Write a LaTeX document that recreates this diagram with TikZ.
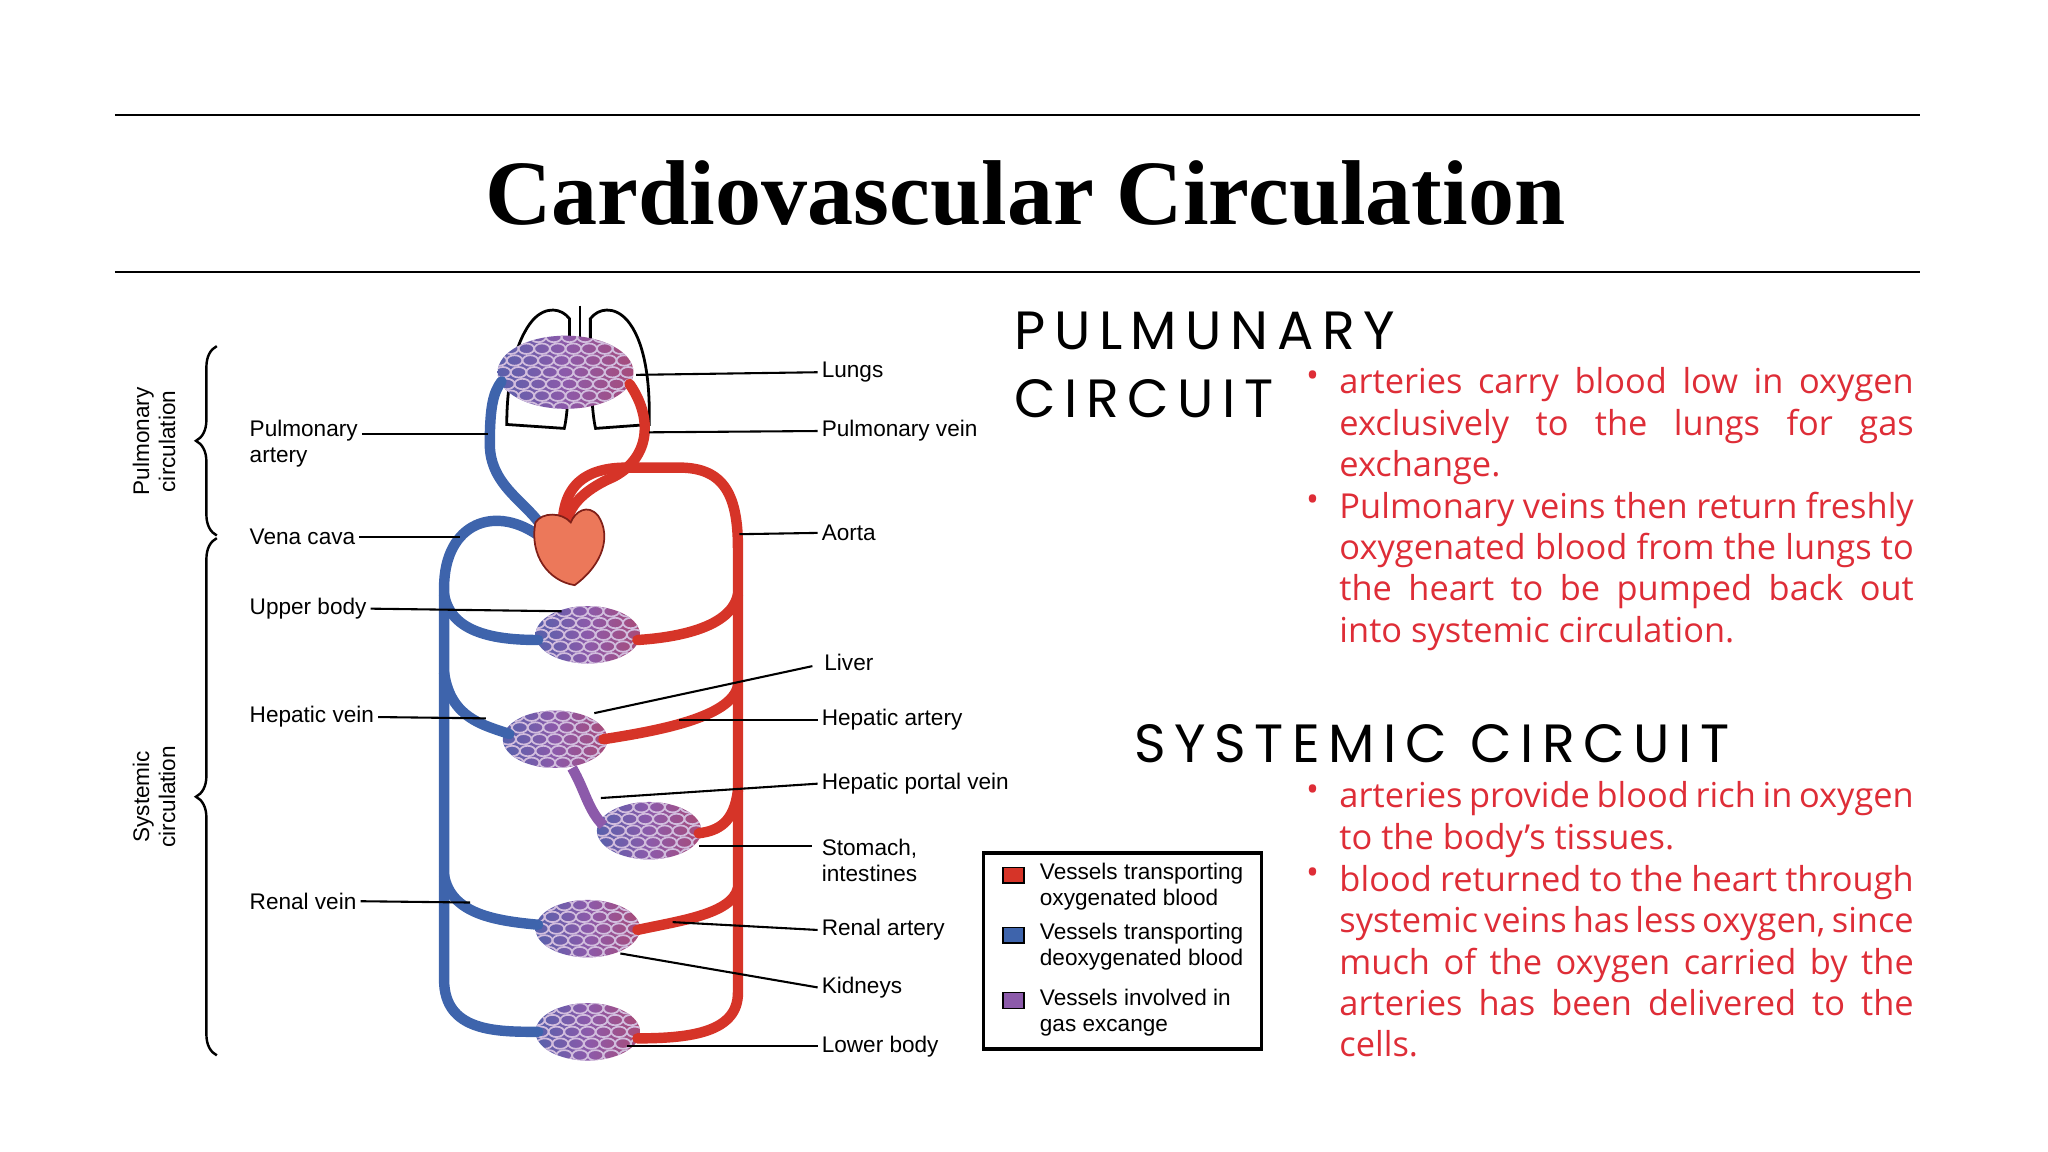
\documentclass[tikz,border=0pt]{standalone}
\usepackage{fontspec}
\setmainfont{Liberation Serif}
\newfontfamily\labfont{Liberation Sans}
\newfontfamily\bodyfont{Open Sans}
\newfontfamily\headfont[LetterSpace=16]{Poppins}
\usetikzlibrary{decorations.pathreplacing}
\hyphenpenalty=10000
\exhyphenpenalty=10000
\definecolor{txtred}{RGB}{222,45,55}
\definecolor{vblue}{RGB}{62,100,172}
\definecolor{vred}{RGB}{214,52,40}
\definecolor{vpurp}{RGB}{140,90,170}
\tikzset{
 lab/.style={font=\labfont\fontsize{6.5}{7.5}\selectfont, inner sep=1pt, align=left},
 lead/.style={line width=0.6pt},
 bvein/.style={draw=vblue, line width=3pt, line cap=round},
 rart/.style={draw=vred, line width=3pt, line cap=round},
 para/.style={font=\bodyfont\fontsize{9.9}{11.9}\selectfont, text=txtred, text width=5.81cm, align=justify, inner sep=0pt, anchor=north west},
 bul/.style={font=\bodyfont\fontsize{9.9}{11.9}\selectfont, text=txtred, inner sep=0pt, anchor=north},
 head/.style={font=\headfont\fontsize{15.5}{18}\selectfont, inner sep=0pt, anchor=west},
}
\newcommand{\capbed}[3]{% name, x, y
 \begin{scope}
  \clip (#2,#3) ellipse (40 and 22);
  \shade[left color=vblue!70!vpurp, right color=vred!40!vpurp, middle color=vpurp] (#2-42,#3-24) rectangle (#2+42,#3+24);
  \foreach \i in {-3,...,3}{\foreach \j in {-2,...,2}{
    \draw[white!60!vpurp, line width=0.5pt] (#2+\i*12+\j*3,#3+\j*9) ellipse (6 and 4);}}
 \end{scope}
 \coordinate (#1) at (#2,#3);
}
\begin{document}
\begin{tikzpicture}[x=0.01321cm,y=-0.01321cm]
\useasboundingbox (0,0) rectangle (1568,882);
% rules and title
\draw[line width=0.6pt] (88,88) coordinate (r1a) -- (1470,88) coordinate (r1b);
\draw[line width=0.6pt] (88,208) coordinate (r2a) -- (1470,208) coordinate (r2b);
\node[font=\bfseries\fontsize{26.5}{30}\selectfont] (title) at (785,148) {Cardiovascular Circulation};
% headings
\node[head] (hp1) at (776,253) {PULMUNARY};
\node[head] (hp2) at (776,305) {CIRCUIT};
\node[head] (hs) at (868,569) {SYSTEMIC CIRCUIT};
% paragraphs
\node[bul] (b1) at (1005,283) {•};
\node[para] (p1) at (1025,281) {arteries carry blood low in oxygen exclusively to the lungs for gas exchange.};
\node[bul] (b2) at (1005,378) {•};
\node[para] (p2) at (1025,376) {Pulmonary veins then return freshly oxygenated blood from the lungs to the heart to be pumped back out into systemic circulation.};
\node[bul] (b3) at (1005,600) {•};
\node[para] (p3) at (1025,598) {arteries provide blood rich in oxygen to the body’s tissues.};
\node[bul] (b4) at (1005,664) {•};
\node[para] (p4) at (1025,662) {blood returned to the heart through systemic veins has less oxygen, since much of the oxygen carried by the arteries has been delivered to the cells.};
% braces
\draw[line width=0.7pt, decorate, decoration={brace, amplitude=6pt}] (166,410) coordinate (pb1) -- (166,265) coordinate (pb2);
\draw[line width=0.7pt, decorate, decoration={brace, amplitude=6pt}] (166,808) coordinate (sb1) -- (166,412) coordinate (sb2);
\node[lab, rotate=90, align=center] (pc) at (118,338) {Pulmonary\\circulation};
\node[lab, rotate=90, align=center] (sc) at (118,610) {Systemic\\circulation};
% lungs outline
\draw[line width=0.8pt, fill=white] (436,262) -- (436,244) .. controls (430,236) and (418,234) .. (408,245) .. controls (395,260) and (388,290) .. (388,325) -- (432,328) .. controls (434,320) and (436,300) .. (436,262);
\draw[line width=0.8pt, fill=white] (452,262) -- (452,244) .. controls (458,236) and (470,234) .. (480,245) .. controls (493,260) and (498,290) .. (497,325) -- (456,328) .. controls (454,320) and (452,300) .. (452,262);
\draw[line width=0.8pt] (444,234) -- (444,262);
% lung capillaries
\begin{scope}
 \clip (433,285) ellipse (52 and 28);
 \shade[left color=vblue!70!vpurp, right color=vred!40!vpurp, middle color=vpurp] (375,250) rectangle (490,320);
 \foreach \i in {-4,...,4}{\foreach \j in {-3,...,3}{
   \draw[white!60!vpurp, line width=0.5pt] (433+\i*12+\j*3,285+\j*9) ellipse (6 and 4);}}
\end{scope}
\coordinate (lungs) at (433,285);
% capillary beds
\capbed{upper}{450}{486}
\capbed{liver}{425}{566}
\capbed{stomach}{497}{636}
\capbed{kidney}{450}{711}
\capbed{lower}{450}{790}
% systemic veins (blue)
\draw[bvein] (415,412) .. controls (380,385) and (340,400) .. (340,450) -- (340,750) .. controls (340,790) and (380,790) .. (412,790);
\draw[bvein] (340,455) .. controls (345,485) and (380,490) .. (412,490);
\draw[bvein] (340,515) .. controls (345,550) and (370,555) .. (390,562);
\draw[bvein] (340,670) .. controls (345,700) and (380,705) .. (412,708);
% pulmonary artery
\draw[bvein] (420,420) .. controls (420,390) and (375,380) .. (375,340) .. controls (375,310) and (378,300) .. (384,292);
% aorta / arteries (red)
\draw[rart] (432,418) .. controls (425,370) and (450,358) .. (480,358) -- (520,358) .. controls (555,358) and (565,380) .. (565,420) -- (565,760) .. controls (565,790) and (530,795) .. (488,795);
\draw[rart] (565,455) .. controls (560,480) and (520,488) .. (488,490);
\draw[rart] (565,525) .. controls (560,550) and (500,560) .. (462,566);
\draw[rart] (565,605) .. controls (562,630) and (550,636) .. (535,638);
\draw[rart] (565,680) .. controls (560,700) and (520,705) .. (488,712);
% pulmonary vein
\draw[rart] (482,294) .. controls (500,320) and (498,350) .. (470,365) .. controls (440,378) and (430,395) .. (435,412);
% hepatic portal vein
\draw[draw=vpurp, line width=3pt] (462,632) .. controls (450,620) and (448,605) .. (438,588);
% heart
\draw[draw=vred!60!black, line width=0.5pt, fill={rgb,255:red,236;green,120;blue,90}] (410,400) .. controls (405,425) and (420,445) .. (440,448) .. controls (462,432) and (468,410) .. (458,395) .. controls (450,385) and (440,392) .. (437,400) .. controls (430,392) and (415,392) .. (410,400) -- cycle;
\coordinate (heart) at (437,420);
% leader lines and labels left
\node[lab, anchor=west] (lpa) at (188,340) {Pulmonary\\artery};
\draw[lead] (277,332) -- (374,332);
\node[lab, anchor=west] (lvc) at (188,411) {Vena cava};
\draw[lead] (lvc.east) -- (352,411);
\node[lab, anchor=west] (lub) at (188,466) {Upper body};
\draw[lead] (lub.east) -- (430,468);
\node[lab, anchor=west] (lhv) at (188,549) {Hepatic vein};
\draw[lead] (lhv.east) -- (372,550);
\node[lab, anchor=west] (lrv) at (188,690) {Renal vein};
\draw[lead] (lrv.east) -- (360,691);
% labels right
\node[lab, anchor=west] (rl) at (626,285) {Lungs};
\draw[lead] (487,287) -- (rl.west);
\node[lab, anchor=west] (rpv) at (626,330) {Pulmonary vein};
\draw[lead] (497,331) -- (rpv.west);
\node[lab, anchor=west] (rao) at (626,408) {Aorta};
\draw[lead] (566,409) -- (rao.west);
\node[lab, anchor=west] (rli) at (628,507) {Liver};
\draw[lead] (622,510) -- (455,546);
\node[lab, anchor=west] (rha) at (626,551) {Hepatic artery};
\draw[lead] (520,551) -- (rha.west);
\node[lab, anchor=west] (rhp) at (626,600) {Hepatic portal vein};
\draw[lead] (rhp.west) -- (460,611);
\node[lab, anchor=west] (rst) at (626,659) {Stomach,\\intestines};
\draw[lead] (535,648) -- (622,648);
\node[lab, anchor=west] (rra) at (626,712) {Renal artery};
\draw[lead] (rra.west) -- (515,706);
\node[lab, anchor=west] (rki) at (626,756) {Kidneys};
\draw[lead] (rki.west) -- (475,730);
\node[lab, anchor=west] (rlb) at (626,801) {Lower body};
\draw[lead] (480,801) -- (rlb.west);
% legend
\draw[line width=1pt] (753,653) rectangle (966,803);
\draw[fill=vred, line width=0.4pt] (768,664) rectangle (784,676);
\draw[fill=vblue, line width=0.4pt] (768,710) rectangle (784,722);
\draw[fill=vpurp, line width=0.4pt] (768,760) rectangle (784,772);
\node[lab, anchor=west] (k1) at (793,679) {Vessels transporting\\oxygenated blood};
\node[lab, anchor=west] (k2) at (793,725) {Vessels transporting\\deoxygenated blood};
\node[lab, anchor=west] (k3) at (793,775) {Vessels involved in\\gas excange};
\end{tikzpicture}
\end{document}
